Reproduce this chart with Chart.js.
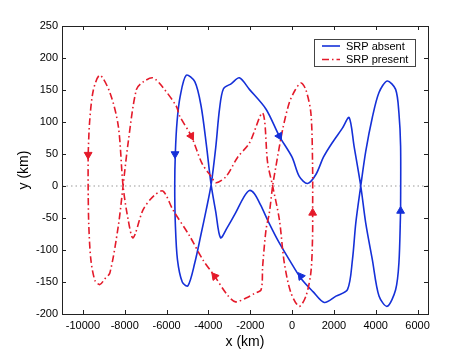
<!DOCTYPE html>
<html><head><meta charset="utf-8">
<script src="https://cdn.jsdelivr.net/npm/chart.js@4"></script>
<style>html,body{margin:0;padding:0;background:#fff}</style>
</head><body>
<canvas id="c" width="474" height="355" style="width:474px;height:355px;display:block"></canvas>
<script>
const xTicks = [-10000,-8000,-6000,-4000,-2000,0,2000,4000,6000];
const yTicks = [-200,-150,-100,-50,0,50,100,150,200,250];
const seriesNames = ['SRP absent', 'SRP present'];

const absentX = [5190,5190,5110,4952,4550,4157,3838,3523,3285,3047,2888,2650,2100,1540,1000,420,-100,-610,-1100,-1500,-1800,-2040,-2300,-2700,-3100,-3420,-3650,-3870,-4100,-4350,-4650,-5060,-5350,-5500,-5580,-5610,-5580,-5480,-5250,-4980,-4650,-4350,-4103,-3870,-3650,-3469,-3280,-2900,-2520,-2040,-1243,-610,0,344,740,1140,1500,1930,2400,2727,2966,3285,3523,3838,4157,4550,4952,5110,5190];
const absentY = [-39,62,114,151,164,146,107,54,0,-58,-115,-162,-172,-182,-165,-144,-117,-89,-58,-30,-12,-7,-17,-42,-65,-81,-40,2,65,125,163,173,140,100,52,0,-60,-115,-150,-156,-120,-75,-37,2,60,120,152,160,169,151,120,78,45,15,4,18,45,68,90,107,62,0,-58,-115,-172,-188,-162,-120,-39];

const presentX = [-9750,-9750,-9720,-9620,-9420,-9190,-8950,-8712,-8310,-8080,-7840,-7440,-7100,-6650,-6200,-5540,-5370,-4820,-4300,-3870,-3630,-3150,-2600,-2040,-1405,-1167,-929,-609,-371,-53,344,663,900,980,985,980,900,663,424,150,-133,-452,-770,-929,-1086,-1243,-1405,-1480,-1800,-2200,-2700,-3100,-3700,-4270,-4900,-5700,-6170,-6600,-7120,-7600,-7840,-8080,-8310,-8710,-9190,-9500,-9680,-9750];
const presentY = [49,0,-60,-115,-148,-154,-145,-136,-63,0,67,151,163,169,155,125,109,78,35,15,5,15,45,67,114,36,0,-52,-120,-167,-188,-172,-135,-80,-42,36,114,150,161,150,130,88,31,0,-42,-68,-125,-162,-168,-175,-181,-170,-141,-115,-78,-37,-8,-15,-37,-81,-52,0,94,146,173,150,100,49];

const absentArrowX = [-5595,-610,420,5190];
const absentArrowY = [50,78,-141,-39];
const absentArrowAngle = [180,151,323,0];
const presentArrowX = [-9750,-4820,-3700,985];
const presentArrowY = [49,78,-141,-42];
const presentArrowAngle = [180,152,321,0];

const BLUE = '#1530d8';
const RED = '#e41a2a';
const FONT = '"Liberation Sans", Arial, Helvetica, sans-serif';

const pts = (xs, ys) => xs.map((x, i) => ({x: x, y: ys[i]}));

const framePlugin = {
  id: 'frame',
  beforeDatasetsDraw(chart) {
    const {ctx, chartArea: a, scales: {y}} = chart;
    const y0 = y.getPixelForValue(0);
    ctx.save();
    ctx.strokeStyle = '#9a9a9a';
    ctx.lineWidth = 1.2;
    ctx.setLineDash([1.5, 3]);
    ctx.beginPath();
    ctx.moveTo(a.left, y0); ctx.lineTo(a.right, y0);
    ctx.stroke();
    ctx.restore();
  },
  afterDraw(chart) {
    const {ctx, chartArea: a, scales: {x, y}} = chart;
    ctx.save();
    ctx.strokeStyle = '#222';
    ctx.lineWidth = 1;
    ctx.beginPath();
    const L = 4;
    xTicks.forEach(v => {
      const px = Math.round(x.getPixelForValue(v)) + 0.5;
      ctx.moveTo(px, a.bottom); ctx.lineTo(px, a.bottom - L);
      ctx.moveTo(px, a.top); ctx.lineTo(px, a.top + L);
    });
    yTicks.forEach(v => {
      const py = Math.round(y.getPixelForValue(v)) + 0.5;
      ctx.moveTo(a.left, py); ctx.lineTo(a.left + L, py);
      ctx.moveTo(a.right, py); ctx.lineTo(a.right - L, py);
    });
    ctx.stroke();
    ctx.strokeRect(Math.round(a.left) + 0.5, Math.round(a.top) + 0.5, Math.round(a.right - a.left), Math.round(a.bottom - a.top));
    // legend
    const bx = 314.5, by = 39.5, bw = 101, bh = 27;
    ctx.fillStyle = '#fff';
    ctx.fillRect(bx, by, bw, bh);
    ctx.strokeStyle = '#444';
    ctx.strokeRect(bx, by, bw, bh);
    ctx.font = '11px ' + FONT;
    ctx.fillStyle = '#000';
    ctx.textBaseline = 'middle';
    ctx.textAlign = 'left';
    const rows = [{y: 46, c: BLUE, d: []}, {y: 59.5, c: RED, d: [7, 3, 1.5, 3]}];
    rows.forEach((r, i) => {
      ctx.strokeStyle = r.c;
      ctx.lineWidth = 1.6;
      ctx.setLineDash(r.d);
      ctx.beginPath();
      ctx.moveTo(322, r.y); ctx.lineTo(340, r.y);
      ctx.stroke();
      ctx.setLineDash([]);
      ctx.fillText(seriesNames[i], 346, r.y + 0.5);
    });
    ctx.restore();
  }
};

new Chart(document.getElementById('c'), {
  type: 'scatter',
  data: {
    datasets: [
      {label: 'arrowsA', data: pts(absentArrowX, absentArrowY), showLine: false, order: 0,
       pointStyle: 'triangle', pointRadius: 4.5, pointBackgroundColor: BLUE, pointBorderColor: BLUE, pointBorderWidth: 1,
       pointRotation: c => absentArrowAngle[c.dataIndex]},
      {label: 'arrowsP', data: pts(presentArrowX, presentArrowY), showLine: false, order: 0,
       pointStyle: 'triangle', pointRadius: 4.5, pointBackgroundColor: RED, pointBorderColor: RED, pointBorderWidth: 1,
       pointRotation: c => presentArrowAngle[c.dataIndex]},
      {label: seriesNames[1], data: pts(presentX, presentY), showLine: true, order: 1,
       borderColor: RED, borderWidth: 1.6, borderDash: [7, 3, 1.5, 3], pointRadius: 0, tension: 0.3, fill: false},
      {label: seriesNames[0], data: pts(absentX, absentY), showLine: true, order: 2,
       borderColor: BLUE, borderWidth: 1.6, pointRadius: 0, tension: 0.3, fill: false}
    ]
  },
  options: {
    responsive: false,
    animation: false,
    devicePixelRatio: 1,
    layout: {padding: {left: 0, right: 46, top: 26, bottom: 0}},
    plugins: {legend: {display: false}, tooltip: {enabled: false}},
    scales: {
      x: {
        type: 'linear', min: -11000, max: 6500,
        afterBuildTicks: s => { s.ticks = xTicks.map(v => ({value: v})); },
        afterFit: s => { s.height = 41; },
        grid: {display: false, drawTicks: false},
        border: {display: false},
        ticks: {font: {family: FONT, size: 11}, color: '#000', padding: 5, maxRotation: 0, autoSkip: false,
                callback: v => String(v)},
        title: {display: true, text: 'x (km)', color: '#000', font: {family: FONT, size: 14}, padding: {top: 0, bottom: 4}}
      },
      y: {
        type: 'linear', min: -200, max: 250,
        afterBuildTicks: s => { s.ticks = yTicks.map(v => ({value: v})); },
        afterFit: s => { s.width = 62; },
        grid: {display: false, drawTicks: false},
        border: {display: false},
        ticks: {font: {family: FONT, size: 11}, color: '#000', padding: 4, autoSkip: false,
                callback: v => String(v)},
        title: {display: true, text: 'y (km)', color: '#000', font: {family: FONT, size: 14}, padding: {top: 16, bottom: 0}}
      }
    }
  },
  plugins: [framePlugin]
});
</script>
</body></html>
